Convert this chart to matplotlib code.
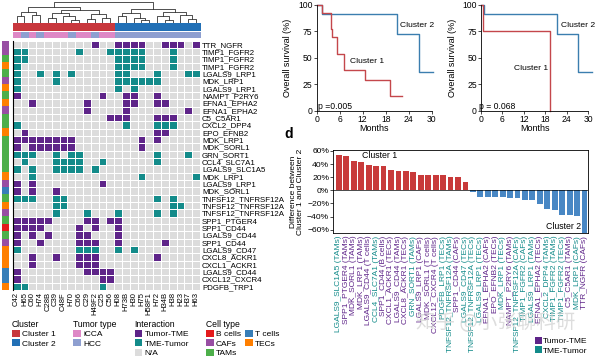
import matplotlib
matplotlib.use('Agg')
import matplotlib.pyplot as plt
from matplotlib.patches import Patch
from matplotlib.colors import ListedColormap, to_rgb
from matplotlib.ticker import FuncFormatter
import numpy as np

plt.rcParams['font.family'] = ['Liberation Sans', 'DejaVu Sans']
plt.rcParams['axes.linewidth'] = 0.6

W, H = 596, 359


def box(x0, y0, x1, y1):
    # pixel box (top-left origin) -> figure fraction rect
    return [x0 / W, 1 - y1 / H, (x1 - x0) / W, (y1 - y0) / H]


# ---------------- heatmap data ----------------
samples = ['C42', 'H65', 'C60', 'H74', 'C28B', 'C39', 'C48F', 'H70', 'C66', 'C29',
           'H49F2', 'C25', 'C56', 'H08', 'H73B', 'H30', 'H75', 'H58F1', 'H72', 'H34B',
           'H38', 'H23', 'H37', 'H63']
sample_cluster = ['Cluster 1'] * 13 + ['Cluster 2'] * 11
sample_tumor = ['iCCA', 'HCC', 'iCCA', 'HCC', 'iCCA', 'iCCA', 'iCCA', 'HCC', 'iCCA', 'iCCA',
                'HCC', 'iCCA', 'iCCA', 'HCC', 'HCC', 'HCC', 'HCC', 'HCC', 'HCC', 'HCC',
                'HCC', 'HCC', 'HCC', 'HCC']

pairs = ['TTR_NGFR', 'TIMP1_FGFR2', 'TIMP1_FGFR2', 'TIMP1_FGFR2', 'LGALS9_LRP1',
         'MDK_LRP1', 'LGALS9_LRP1', 'NAMPT_P2RY6', 'EFNA1_EPHA2', 'EFNA1_EPHA2',
         'C5_C5AR1', 'CXCL2_DPP4', 'EPO_EFNB2', 'MDK_LRP1', 'MDK_SORL1', 'GRN_SORT1',
         'CCL4_SLC7A1', 'LGALS9_SLC1A5', 'MDK_LRP1', 'LGALS9_LRP1', 'MDK_SORL1',
         'TNFSF12_TNFRSF12A', 'TNFSF12_TNFRSF12A', 'TNFSF12_TNFRSF12A', 'SPP1_PTGER4',
         'SPP1_CD44', 'LGALS9_CD44', 'SPP1_CD44', 'LGALS9_CD47', 'CXCL8_ACKR1',
         'CXCL1_ACKR1', 'LGALS9_CD44', 'CXCL12_CXCR4', 'PDGFB_TRP1']
pair_cell = ['CAFs', 'CAFs', 'TAMs', 'TECs', 'TAMs', 'CAFs', 'TECs', 'TAMs', 'TECs', 'CAFs',
             'TAMs', 'TAMs', 'TECs', 'TAMs', 'TAMs', 'TAMs', 'TAMs', 'TAMs', 'TECs', 'CAFs',
             'T cells', 'TAMs', 'TECs', 'CAFs', 'TAMs', 'B cells', 'TAMs', 'CAFs', 'TECs',
             'TECs', 'TECs', 'T cells', 'T cells', 'TECs']
pair_dir = ['Tumor-TME'] + ['TME-Tumor'] * 6 + ['Tumor-TME'] * 4 + ['TME-Tumor'] + \
           ['Tumor-TME'] * 3 + ['TME-Tumor'] * 4 + ['Tumor-TME'] * 2 + ['TME-Tumor'] * 3 + \
           ['Tumor-TME'] * 4 + ['TME-Tumor'] + ['Tumor-TME'] * 4 + ['TME-Tumor']
# columns with an interaction, per row
pair_hits = [
    [10, 13, 14, 15, 16, 19, 20, 21, 23],
    [0, 1, 8, 12, 13, 14, 15, 16, 20],
    [0, 1, 13, 14, 15, 16, 20],
    [0, 13, 14, 15, 16, 20],
    [0, 3, 5, 7, 13, 14, 18, 22, 23],
    [0, 5, 13, 14, 15, 16, 17, 18],
    [0, 13, 15],
    [0, 11, 14, 15, 18],
    [2, 9, 14, 15, 18, 19],
    [9, 14, 22],
    [12, 13, 14, 18, 19, 20],
    [0, 14, 18, 19, 20],
    [1, 18, 19],
    [0, 1, 2, 3, 4, 5, 6, 7, 16, 18],
    [0, 2, 3, 4, 5, 6, 7, 16],
    [0, 1, 2, 5, 7, 8, 18, 22],
    [1, 5, 6, 7, 8, 11, 18],
    [0, 2, 5, 6, 7, 8, 10],
    [2, 16, 23],
    [0, 2, 11],
    [0, 2, 5],
    [0, 1, 2, 5, 6, 18, 20],
    [5, 6, 20, 21],
    [5, 9, 13, 18, 20],
    [0, 1, 2, 3, 4, 9, 10, 12, 13],
    [0, 1, 2, 3, 8, 10, 13],
    [0, 2, 4, 8, 9, 13],
    [0, 3, 8, 9, 10, 13, 19],
    [0, 8, 9, 10, 13, 15],
    [2, 5, 8, 9, 10, 18],
    [2, 8, 9, 10],
    [0, 9, 10, 11, 12],
    [0, 11, 12],
    [0, 1, 11],
]

# column dendrogram: (height, left, right), leaves are column indices
col_tree = (1.0,
            (0.75, (0.5, (0.3, 0, 1), (0.35, 2, 3)),
             (0.6, (0.45, (0.25, 4, 5), (0.3, 6, (0.15, 7, 8))),
              (0.4, (0.2, 9, 10), (0.25, 11, 12)))),
            (0.65, (0.45, (0.3, 13, 14), (0.25, 15, (0.15, 16, 17))),
             (0.5, (0.3, 18, (0.15, 19, 20)), (0.35, 21, (0.2, 22, 23)))))

# ---------------- survival data ----------------
km1_c1_t = [0, 1.3, 3.6, 3.9, 5.2, 7.0, 12.6, 19.1, 22.2]
km1_c1_s = [100, 92.3, 76.9, 69.2, 53.8, 38.5, 28.8, 14.4, 14.4]
km1_c2_t = [0, 1.5, 21.0, 26.8, 30.3]
km1_c2_s = [100, 90.9, 72.7, 36.4, 36.4]
km2_c1_t = [0, 0.6, 19.3]
km2_c1_s = [100, 75, 0]
km2_c2_t = [0, 0.9, 21.2, 27.0, 31.0]
km2_c2_s = [100, 90.9, 72.7, 36.4, 36.4]

# ---------------- bar data ----------------
bar_labels = ['LGALS9_SLC1A5 (TAMs)', 'SPP1_PTGER4 (TAMs)', 'MDK_SORL1 (TAMs)',
              'MDK_LRP1 (TAMs)', 'LGALS9_CD44 (T cells)', 'CCL4_SLC7A1 (TAMs)',
              'SPP1_CD44 (B cells)', 'CXCL1_ACKR1 (TECs)', 'LGALS9_CD44 (TAMs)',
              'CXCL8_ACKR1 (TECs)', 'GRN_SORT1 (TAMs)', 'LGALS9_LRP1 (CAFs)',
              'MDK_SORL1 (T cells)', 'CXCL12_CXCR4 (T cells)', 'PDGFB_LRP1 (TECs)',
              'TNFSF12_TNFRSF12A (TAMs)', 'SPP1_CD44 (CAFs)', 'LGALS9_CD47 (TECs)',
              'TNFSF12_TNFRSF12A (TECs)', 'LGALS9_LRP1 (TECs)', 'EFNA1_EPHA2 (CAFs)',
              'EPO_EFNB2 (TECs)', 'MDK_LRP1 (TECs)', 'NAMPT_P2RY6 (TAMs)',
              'TNFSF12_TNFRSF12A (CAFs)', 'TIMP1_FGFR2 (CAFs)', 'LGALS9_LRP1 (TAMs)',
              'EFNA1_EPHA2 (TECs)', 'CXCL2_DPP4 (TAMs)', 'TIMP1_FGFR2 (TAMs)',
              'TIMP1_FGFR2 (TECs)', 'C5_C5AR1 (TAMs)', 'MDK_LRP1 (CAFs)', 'TTR_NGFR (CAFs)']
bar_values = [54, 52.5, 45, 43.5, 38.5, 37, 37, 31, 29.5, 29.5, 28, 23, 23, 23, 23,
              20.5, 20.5, 12.5, -2.5, -10.5, -10.5, -10.5, -10.5, -12, -12, -14.5,
              -14.5, -21, -28.5, -30, -38, -38, -39, -65]
bar_dir = ['TME-Tumor', 'Tumor-TME', 'Tumor-TME', 'Tumor-TME', 'Tumor-TME', 'TME-Tumor',
           'Tumor-TME', 'Tumor-TME', 'Tumor-TME', 'Tumor-TME', 'TME-Tumor', 'Tumor-TME',
           'Tumor-TME', 'Tumor-TME', 'TME-Tumor', 'TME-Tumor', 'Tumor-TME', 'TME-Tumor',
           'TME-Tumor', 'TME-Tumor', 'Tumor-TME', 'Tumor-TME', 'TME-Tumor', 'Tumor-TME',
           'TME-Tumor', 'TME-Tumor', 'TME-Tumor', 'Tumor-TME', 'TME-Tumor', 'TME-Tumor',
           'TME-Tumor', 'Tumor-TME', 'TME-Tumor', 'Tumor-TME']

# ---------------- colours ----------------
cluster_colors = {'Cluster 1': '#C8373D', 'Cluster 2': '#2270B6'}
tumor_colors = {'iCCA': '#DE88C6', 'HCC': '#8E9FD0'}
inter_colors = {'Tumor-TME': '#5E2489', 'TME-Tumor': '#138B8A', 'N/A': '#DCDCDC'}
cell_colors = {'B cells': '#E41A1C', 'CAFs': '#984EA3', 'TAMs': '#4DAF4A',
               'T cells': '#377EB8', 'TECs': '#FF7F00'}
km_red, km_blue = '#C4474B', '#3B7EAF'
bar_red, bar_blue = '#C83A3A', '#4887C4'

fig = plt.figure(figsize=(W / 100, H / 100), dpi=100)
fig.patch.set_facecolor('white')

# ---------------- heatmap ----------------
hx0, hx1, hy0, hy1 = 12.7, 200, 40.7, 290
ax_hm = fig.add_axes(box(hx0, hy0, hx1, hy1))
mat = np.zeros((len(pairs), len(samples)), int)
for r, hits in enumerate(pair_hits):
    mat[r, hits] = 1 if pair_dir[r] == 'Tumor-TME' else 2
cmap = ListedColormap([inter_colors['N/A'], inter_colors['Tumor-TME'], inter_colors['TME-Tumor']])
ax_hm.pcolormesh(mat, cmap=cmap, vmin=-0.5, vmax=2.5, edgecolors='white', linewidth=0.6)
ax_hm.set_xlim(0, len(samples))
ax_hm.set_ylim(len(pairs), 0)
ax_hm.set_yticks(np.arange(len(pairs)) + 0.5)
ax_hm.set_yticklabels(pairs, fontsize=5.7)
ax_hm.yaxis.tick_right()
ax_hm.set_xticks(np.arange(len(samples)) + 0.5)
ax_hm.set_xticklabels(samples, rotation=90, fontsize=5.5)
ax_hm.tick_params(length=0, pad=1.5)
for s in ['top', 'right', 'bottom']:
    ax_hm.spines[s].set_visible(False)
ax_hm.spines['left'].set_linewidth(0.8)

# row annotation: cell type
ax_cell = fig.add_axes(box(1.7, hy0, 8.5, hy1))
ax_cell.imshow(np.array([to_rgb(cell_colors[c]) for c in pair_cell])[:, None, :],
               aspect='auto', interpolation='nearest')
ax_cell.axis('off')

# column annotations
ax_cl = fig.add_axes(box(hx0, 23.3, hx1, 30.7))
ax_cl.imshow(np.array([to_rgb(cluster_colors[c]) for c in sample_cluster])[None, :, :],
             aspect='auto', interpolation='nearest')
ax_cl.axis('off')
ax_tt = fig.add_axes(box(hx0, 31.7, hx1, 38.3))
ax_tt.imshow(np.array([to_rgb(tumor_colors[c]) for c in sample_tumor])[None, :, :],
             aspect='auto', interpolation='nearest')
ax_tt.axis('off')

# dendrogram
ax_den = fig.add_axes(box(hx0, 1.5, hx1, 22.7))


def draw_tree(ax, node):
    if isinstance(node, int):
        return node + 0.5, 0.0
    h, a, b = node
    xa, ha = draw_tree(ax, a)
    xb, hb = draw_tree(ax, b)
    ax.plot([xa, xa, xb, xb], [ha, h, h, hb], color='#333333', lw=0.6)
    return (xa + xb) / 2, h


draw_tree(ax_den, col_tree)
ax_den.set_xlim(0, len(samples))
ax_den.set_ylim(0, 1.02)
ax_den.axis('off')

# heatmap legends


def legend_block(x, y, title, labels, colors, ncol=1):
    handles = [Patch(facecolor=c, edgecolor='none') for c in colors]
    fig.legend(handles, labels, title=title, loc='upper left',
               bbox_to_anchor=(x / W, 1 - y / H), frameon=False, fontsize=6,
               title_fontsize=6.2, handlelength=0.9, handleheight=0.9,
               handletextpad=0.3, labelspacing=0.12, borderpad=0, borderaxespad=0,
               columnspacing=0.5, alignment='left', ncol=ncol)


legend_block(12, 320, 'Cluster', list(cluster_colors), list(cluster_colors.values()))
legend_block(73, 320, 'Tumor type', list(tumor_colors), list(tumor_colors.values()))
legend_block(134.5, 320, 'Interaction', list(inter_colors), list(inter_colors.values()))
legend_block(206, 320, 'Cell type', list(cell_colors), list(cell_colors.values()), ncol=2)

# ---------------- survival curves ----------------


def km_panel(rect, c1_t, c1_s, c2_t, c2_s, xmax, p_text, p_x, lab2, lab1):
    ax = fig.add_axes(rect)
    ax.step(c2_t, c2_s, where='post', color=km_blue, lw=1.0, clip_on=False)
    ax.step(c1_t, c1_s, where='post', color=km_red, lw=1.0, clip_on=False)
    ax.set_xlim(0, xmax)
    ax.set_ylim(0, 100)
    ax.set_xticks([0, 6, 12, 18, 24, 30])
    ax.set_yticks([0, 25, 50, 75, 100])
    ax.spines['top'].set_visible(False)
    ax.spines['right'].set_visible(False)
    ax.tick_params(labelsize=6.2, length=2, width=0.5, pad=1)
    ax.set_xlabel('Months', fontsize=6.5, labelpad=0)
    ax.set_ylabel('Overall survival (%)', fontsize=6.5, labelpad=4)
    ax.text(p_x, 4.7, p_text, fontsize=6.2, va='center', clip_on=False)
    ax.text(lab2[0], lab2[1], 'Cluster 2', fontsize=6.1, va='center', clip_on=False)
    ax.text(lab1[0], lab1[1], 'Cluster 1', fontsize=6.1, va='center')
    return ax


km_panel(box(316.7, 4.7, 431.7, 111), km1_c1_t, km1_c1_s, km1_c2_t, km1_c2_s, 30,
         'p =0.005', 0.4, (21.7, 80), (8.7, 46.4))
km_panel(box(481, 4.7, 588.3, 111), km2_c1_t, km2_c1_s, km2_c2_t, km2_c2_s, 30,
         'p = 0.068', -0.6, (22.3, 80), (9.1, 40))

# ---------------- bar chart ----------------
ax_b = fig.add_axes(box(333.3, 150, 588, 233))
x = np.arange(len(bar_values))
ax_b.bar(x, bar_values, width=0.78,
         color=[bar_red if v > 0 else bar_blue for v in bar_values])
ax_b.axhline(0, color='black', lw=0.5)
ax_b.set_xlim(-0.75, len(bar_values) - 0.53)
ax_b.set_ylim(-65, 61.5)
ax_b.set_yticks([-60, -40, -20, 0, 20, 40, 60])
ax_b.yaxis.set_major_formatter(FuncFormatter(lambda v, p: f'{int(v)}%'.replace('-', '\u2212')))
ax_b.set_xticks(x)
ax_b.set_xticklabels(bar_labels, rotation=90, fontsize=6)
for lab, d in zip(ax_b.get_xticklabels(), bar_dir):
    lab.set_color(inter_colors[d])
ax_b.tick_params(axis='x', length=0, pad=2)
ax_b.tick_params(axis='y', labelsize=6.1, length=2, width=0.5, pad=1)
ax_b.set_ylabel('Difference between\nCluster 1 and Cluster 2', fontsize=6,
                linespacing=0.95, labelpad=2.5)
ax_b.text(3.1, 52.4, 'Cluster 1', fontsize=6.3, va='center')
ax_b.text(27.8, -55.6, 'Cluster 2', fontsize=6.3, va='center')

fig.legend([Patch(facecolor=inter_colors['Tumor-TME']), Patch(facecolor=inter_colors['TME-Tumor'])],
           ['Tumor-TME', 'TME-Tumor'], loc='upper left', bbox_to_anchor=(535 / W, 1 - 337 / H),
           frameon=False, fontsize=6, handlelength=0.8, handleheight=0.9,
           handletextpad=0.2, labelspacing=0.12, borderpad=0, borderaxespad=0)

fig.text(289 / W, 1 - 134 / H, 'd', fontsize=10, fontweight='bold', ha='center', va='center')

# watermark
fig.text(496 / W, 1 - 322 / H, '知乎 @小张聊科研', fontsize=14,
         family=['Noto Sans CJK SC', 'DejaVu Sans'], color='#CFCFCF', alpha=0.7,
         ha='center', va='center', zorder=0)

fig.savefig('out.png', dpi=100)
